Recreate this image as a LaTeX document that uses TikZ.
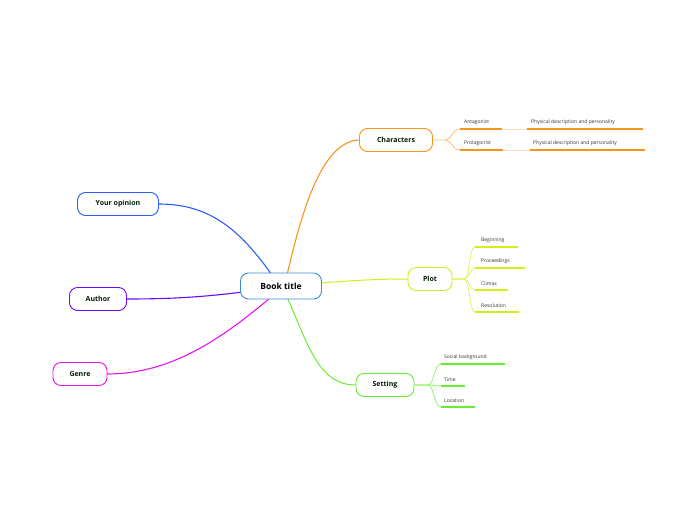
\documentclass[tikz,border=0pt]{standalone}
\usepackage{fontspec}
\setmainfont{Open Sans}
\begin{document}
\begin{tikzpicture}[x=1pt,y=-1pt,
  topic/.style={draw=#1,line width=0.9pt,rounded corners=8pt,fill=white,font=\bfseries\fontsize{7}{8}\selectfont,text=black!70!green!40!black,minimum height=23pt,inner xsep=6pt},
  leaf/.style={font=\fontsize{5}{6}\selectfont,text=black!80,anchor=south west,inner sep=1pt},
  ul/.style={draw=#1,line width=1.2pt},
  br/.style={draw=#1,line width=0.8pt}]
\useasboundingbox (0,0) rectangle (697,520);
\definecolor{cor}{HTML}{F7941D}
\definecolor{cpl}{HTML}{D4EE1A}
\definecolor{cse}{HTML}{66EE33}
\definecolor{cbl}{HTML}{2A5CFF}
\definecolor{cpu}{HTML}{6A0AFF}
\definecolor{cmg}{HTML}{EE11EE}
\definecolor{cbt}{HTML}{3A8ED8}
% connectors first
\coordinate (bt) at (281,286);
\draw[cor,line width=1.1pt] (287,275) .. controls (300,220) and (320,140) .. (360,140);
\draw[cpl,line width=1pt] (320,283) .. controls (360,280) and (380,279) .. (408,279);
\draw[cse,line width=1pt] (287,297) .. controls (310,350) and (320,385) .. (356,385);
\draw[cbl,line width=1.1pt] (159,204) .. controls (210,204) and (240,230) .. (272,275);
\draw[cpu,line width=1.1pt] (127,299) .. controls (180,299) and (210,296) .. (243,292);
\draw[cmg,line width=1.1pt] (107,374) .. controls (170,374) and (220,340) .. (270,298);
\node[topic=cbt,minimum width=81pt,minimum height=26pt,font=\bfseries\fontsize{8.5}{9}\selectfont,text=black] (book) at (281,286) {Book title};
\node[topic=cor,minimum width=73pt] (char) at (396,140) {Characters};
\node[topic=cpl,minimum width=44pt] (plot) at (430,279) {Plot};
\node[topic=cse,minimum width=58pt] (set) at (385,385) {Setting};
\node[topic=cbl,minimum width=81pt] (op) at (118,204) {Your opinion};
\node[topic=cpu,minimum width=57pt] (au) at (98,299) {Author};
\node[topic=cmg,minimum width=54pt] (ge) at (80,374) {Genre};
% Characters leaves
\coordinate (a1) at (460,129); \coordinate (a2) at (502,129);
\coordinate (p1) at (460,150); \coordinate (p2) at (503,150);
\coordinate (b1) at (527,129); \coordinate (b2) at (643,129);
\coordinate (c1) at (530,150); \coordinate (c2) at (645,150);
\draw[br=cor!60] (char.east) -- (445,140) .. controls (452,140) and (452,129) .. (a1);
\draw[br=cor!60] (445,140) .. controls (452,140) and (452,150) .. (p1);
\draw[br=cor!30] (a2) -- (b1); \draw[br=cor!30] (p2) -- (c1);
\draw[ul=cor] (a1) -- (a2); \draw[ul=cor] (p1) -- (p2);
\draw[ul=cor] (b1) -- (b2); \draw[ul=cor] (c1) -- (c2);
\node[leaf] (na) at (463,126) {Antagonist};
\node[leaf] (np) at (463,147) {Protagonist};
\node[leaf] (nb) at (530,126) {Physical description and personality};
\node[leaf] (nc) at (532,147) {Physical description and personality};
% Plot leaves
\coordinate (j2) at (464,279);
\foreach \y/\e/\t/\n in {247/518/Beginning/l1,268/525/Proceedings/l2,290/508/Climax/l3,312/519/Resolution/l4}{
  \coordinate (\n s) at (475,\y); \coordinate (\n e) at (\e,\y);
  \draw[br=cpl!70] (plot.east) -- (j2) .. controls (470,279) and (469,\y) .. (\n s);
  \draw[ul=cpl] (\n s) -- (\n e);
  \node[leaf] (\n) at (480,\y-3) {\t};
}
% Setting leaves
\coordinate (j3) at (428,385);
\foreach \y/\e/\t/\n in {364/505/Social background/m1,386/465/Time/m2,407/475/Location/m3}{
  \coordinate (\n s) at (441,\y); \coordinate (\n e) at (\e,\y);
  \draw[br=cse!70] (set.east) -- (j3) .. controls (434,385) and (434,\y) .. (\n s);
  \draw[ul=cse] (\n s) -- (\n e);
  \node[leaf] (\n) at (443,\y-3) {\t};
}
\end{tikzpicture}
\end{document}
